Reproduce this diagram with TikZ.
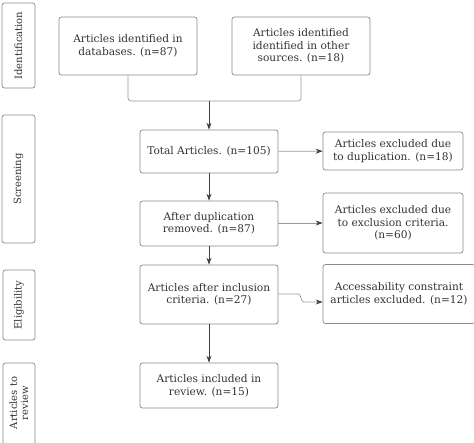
\documentclass[tikz,border=0pt]{standalone}
\usepackage{fontspec}
\setmainfont{DejaVu Serif}
\usetikzlibrary{arrows.meta}
\definecolor{bx}{HTML}{8A8A8A}
\definecolor{ln}{HTML}{9A9A9A}
\definecolor{dk}{HTML}{404040}
\definecolor{tx}{HTML}{333333}
\begin{document}
\begin{tikzpicture}[x=1pt,y=-1pt,
  box/.style={draw=bx,line width=0.7pt,rounded corners=2.5pt,align=center,text=tx,font=\fontsize{10.6}{12.6}\selectfont,inner sep=2pt},
  stage/.style={draw=bx,line width=0.7pt,rounded corners=2.5pt},
  slabel/.style={rotate=90,text=tx,align=center,font=\fontsize{10}{11}\selectfont},
  conn/.style={draw=ln,line width=0.7pt},
  arr/.style={draw=dk,line width=0.7pt,-{Stealth[length=7pt,width=5pt]}},
  harr/.style={draw=ln,line width=0.7pt,-{Stealth[length=7pt,width=5pt,color=dk]}}]
\useasboundingbox (0,0) rectangle (474,443);
\fill[white] (0,0) rectangle (474,443);
% stage labels
\node[stage,minimum width=33pt,minimum height=85pt] (sid) at (18.5,45.5) {};
\node[slabel] at (sid.center) {Identification};
\node[stage,minimum width=33pt,minimum height=128pt] (sscr) at (18.5,179) {};
\node[slabel] at (sscr.center) {Screening};
\node[stage,minimum width=32pt,minimum height=70pt] (sel) at (19,305) {};
\node[slabel] at (sel.center) {Eligibility};
\node[stage,minimum width=32pt,minimum height=88pt] (srev) at (19,407) {};
\node[slabel] at (19,403) {Articles to\\review};
% main boxes
\node[box,minimum width=138pt,minimum height=58pt] (a1) at (128,46) {Articles identified in\\databases. (n=87)};
\node[box,minimum width=138pt,minimum height=58pt] (a2) at (301,46) {Articles identified\\identified in other\\sources. (n=18)};
\node[box,minimum width=138pt,minimum height=43pt] (tot) at (209,151.5) {Total Articles. (n=105)};
\node[box,minimum width=140pt,minimum height=38pt] (ex1) at (393,151) {Articles excluded due\\to duplication. (n=18)};
\node[box,minimum width=138pt,minimum height=45pt] (dup) at (209,223.5) {After duplication\\removed. (n=87)};
\node[box,minimum width=140pt,minimum height=60pt] (ex2) at (393,223) {Articles excluded due\\to exclusion criteria.\\(n=60)};
\node[box,minimum width=138pt,minimum height=59pt] (inc) at (209,294.5) {Articles after inclusion\\criteria. (n=27)};
\node[box,minimum width=152pt,minimum height=59pt] (acc) at (399,294) {Accessability constraint\\articles excluded. (n=12)};
\node[box,minimum width=138pt,minimum height=45pt] (rev) at (209,385.5) {Articles included in\\review. (n=15)};
% connectors
\coordinate (m) at (209,101);
\draw[conn,rounded corners=3pt] (a1.south) |- (m) -| (a2.south);
\draw[arr] (m) -- (tot.north);
\draw[harr] (tot) -- (ex1);
\draw[arr] (tot) -- (dup);
\draw[harr] (dup.east |- ex2.west) -- (ex2.west);
\draw[arr] (dup) -- (inc);
\draw[arr] (inc) -- (rev);
\coordinate (j1) at (298,294);
\coordinate (j2) at (304,302);
\draw[harr] (inc.east |- j1) -- (j1) to[out=0,in=180] (j2) -- (acc.west |- j2);
\end{tikzpicture}
\end{document}
